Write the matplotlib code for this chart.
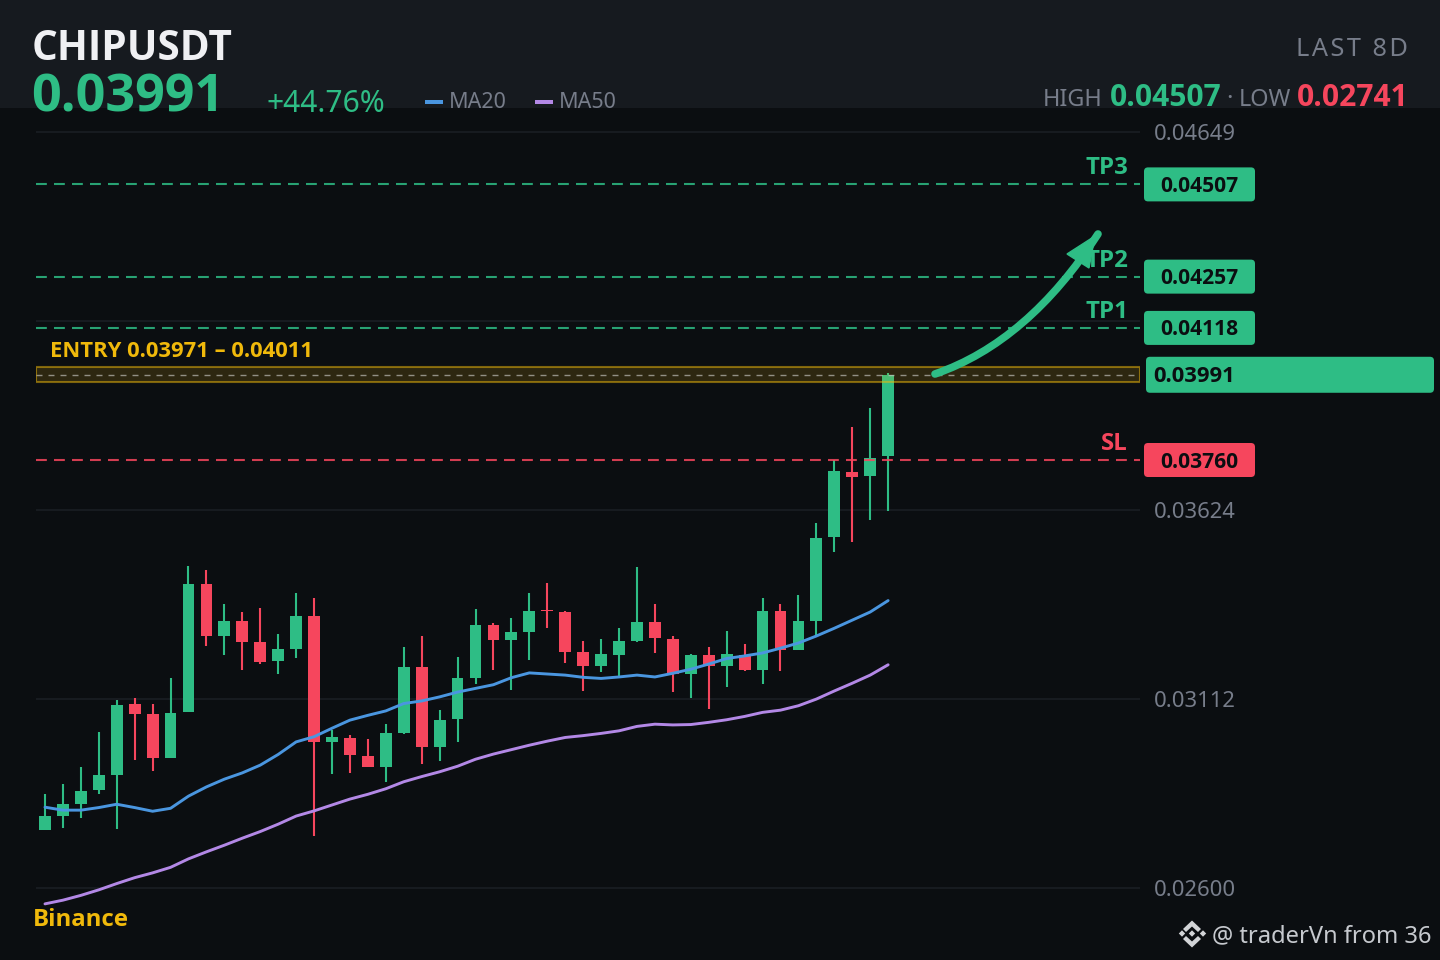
import matplotlib
matplotlib.use('Agg')
import matplotlib.pyplot as plt
import numpy as np
from matplotlib.patches import FancyBboxPatch, PathPatch, Polygon, Rectangle
from matplotlib.path import Path

opens = [0.02757, 0.02796, 0.02827, 0.02865, 0.02906, 0.03098, 0.03071, 0.02953, 0.03078, 0.03424, 0.03283, 0.03325,
         0.03266, 0.03215, 0.03248, 0.03336, 0.02996, 0.03007, 0.02958, 0.02927, 0.03021, 0.03198, 0.02981, 0.03058,
         0.03169, 0.03313, 0.03273, 0.03294, 0.03353, 0.03348, 0.03239, 0.03203, 0.03232, 0.03270, 0.03321, 0.03276,
         0.03180, 0.03231, 0.03201, 0.03232, 0.03191, 0.03351, 0.03246, 0.03325, 0.03552, 0.03727, 0.03717, 0.03770]
closes = [0.02795, 0.02827, 0.02864, 0.02905, 0.03096, 0.03072, 0.02953, 0.03075, 0.03425, 0.03283, 0.03325, 0.03266,
          0.03213, 0.03249, 0.03336, 0.02996, 0.03008, 0.02960, 0.02929, 0.03020, 0.03198, 0.02982, 0.03055, 0.03168,
          0.03313, 0.03273, 0.03294, 0.03352, 0.03350, 0.03239, 0.03202, 0.03233, 0.03269, 0.03321, 0.03278, 0.03179,
          0.03231, 0.03201, 0.03235, 0.03191, 0.03350, 0.03246, 0.03324, 0.03548, 0.03729, 0.03715, 0.03765, 0.03991]
highs = [0.02854, 0.02881, 0.02929, 0.03022, 0.03109, 0.03116, 0.03098, 0.03169, 0.03473, 0.03462, 0.03371, 0.03349,
         0.03360, 0.03289, 0.03400, 0.03386, 0.03028, 0.03016, 0.03003, 0.03045, 0.03252, 0.03283, 0.03083, 0.03225,
         0.03355, 0.03317, 0.03332, 0.03399, 0.03428, 0.03350, 0.03269, 0.03275, 0.03304, 0.03470, 0.03369, 0.03282,
         0.03234, 0.03252, 0.03296, 0.03260, 0.03386, 0.03371, 0.03394, 0.03589, 0.03759, 0.03849, 0.03900, 0.03997]
lows = [0.02757, 0.02763, 0.02790, 0.02854, 0.02759, 0.02946, 0.02918, 0.02953, 0.03078, 0.03257, 0.03232, 0.03192,
        0.03208, 0.03180, 0.03224, 0.02742, 0.02908, 0.02913, 0.02927, 0.02887, 0.03018, 0.02936, 0.02944, 0.02996,
        0.03153, 0.03192, 0.03137, 0.03217, 0.03305, 0.03210, 0.03134, 0.03186, 0.03172, 0.03267, 0.03237, 0.03131,
        0.03115, 0.03084, 0.03145, 0.03188, 0.03153, 0.03188, 0.03246, 0.03283, 0.03511, 0.03538, 0.03597, 0.03622]
ma20 = [0.02819, 0.02811, 0.02811, 0.02818, 0.02827, 0.02818, 0.02808, 0.02816, 0.02849, 0.02874, 0.02895, 0.02912,
        0.02933, 0.02962, 0.02996, 0.03010, 0.03033, 0.03055, 0.03068, 0.03080, 0.03100, 0.03107, 0.03118, 0.03131,
        0.03141, 0.03151, 0.03170, 0.03183, 0.03180, 0.03177, 0.03171, 0.03168, 0.03172, 0.03177, 0.03172, 0.03182,
        0.03193, 0.03207, 0.03222, 0.03229, 0.03237, 0.03250, 0.03264, 0.03283, 0.03304, 0.03326, 0.03348, 0.03379]
ma50 = [0.02557, 0.02567, 0.02580, 0.02595, 0.02612, 0.02628, 0.02641, 0.02656, 0.02679, 0.02698, 0.02716, 0.02735,
        0.02753, 0.02773, 0.02795, 0.02809, 0.02825, 0.02841, 0.02854, 0.02869, 0.02888, 0.02902, 0.02915, 0.02930,
        0.02949, 0.02963, 0.02975, 0.02987, 0.02998, 0.03008, 0.03013, 0.03019, 0.03026, 0.03038, 0.03044, 0.03042,
        0.03043, 0.03049, 0.03056, 0.03065, 0.03076, 0.03082, 0.03094, 0.03112, 0.03134, 0.03155, 0.03177, 0.03205]

# the 0.04137 row only shows its grid line, the pill sits over the label
tick_values = [0.02600, 0.03112, 0.03624, 0.04137, 0.04649]
tick_labels = ['0.02600', '0.03112', '0.03624', '', '0.04649']
tp_names = ['TP3', 'TP2', 'TP1']
tp_values = [0.04507, 0.04257, 0.04118]
sl_value = 0.03760
entry_low = 0.03971
entry_high = 0.04011
last_price = 0.03991

BG = '#0b0e11'
HEADER = '#161a1f'
GREEN = '#2ebd85'
RED = '#f6465d'
YELLOW = '#f0b90b'
GRAY = '#777d8a'
BLUE = '#4a96e0'
PURPLE = '#b388e6'
BOLD = 'Open Sans'


def px(size):
    # font size in pixels -> points at dpi 100
    return size * 0.72


plt.rcParams['font.family'] = ['Noto Sans', 'DejaVu Sans']

fig = plt.figure(figsize=(14.4, 9.6), dpi=100, facecolor=BG)

# header band
head = fig.add_axes([0, 1 - 108 / 960, 1, 108 / 960], zorder=0)
head.axis('off')
head.add_patch(Rectangle((0, 0), 1, 1, transform=head.transAxes, color=HEADER, lw=0))

# price axes: 132 px -> 0.04649, 888 px -> 0.02600
per_px = (0.04649 - 0.02600) / (888 - 132)
ax = fig.add_axes([36 / 1440, 0, (1140 - 36) / 1440, (960 - 108) / 960], zorder=1)
ax.set_facecolor('none')
ax.set_xlim(-0.5, 61.04)
ax.set_ylim(0.02600 - 72 * per_px, 0.04649 + 24 * per_px)
for s in ax.spines.values():
    s.set_visible(False)
ax.set_xticks([])
ax.yaxis.tick_right()
ax.set_yticks(tick_values)
ax.set_yticklabels(tick_labels, fontsize=px(22), color=GRAY)
ax.tick_params(axis='y', length=0, pad=10)
ax.grid(True, axis='y', color='#171b20', lw=1.5)
ax.set_axisbelow(True)

x = np.arange(len(opens))
colors = [GREEN if c >= o else RED for o, c in zip(opens, closes)]
ax.vlines(x, lows, highs, colors=colors, lw=1.5, zorder=3)
bottoms = [min(o, c) for o, c in zip(opens, closes)]
heights = [abs(c - o) for o, c in zip(opens, closes)]
ax.bar(x, heights, 0.66, bottom=bottoms, color=colors, lw=0, zorder=4)

ax.plot(x, ma20, color=BLUE, lw=2.1, zorder=5, solid_capstyle='round')
ax.plot(x, ma50, color=PURPLE, lw=2.1, zorder=5, solid_capstyle='round')

# levels
for v in tp_values:
    ax.axhline(v, color=GREEN, lw=1.5, alpha=0.85, dashes=(5.2, 3.44), zorder=6)
ax.axhline(sl_value, color=RED, lw=1.5, alpha=0.85, dashes=(5.2, 3.44), zorder=6)
ax.axhspan(entry_low, entry_high, facecolor=YELLOW, alpha=0.15, lw=0, zorder=6)
ax.axhspan(entry_low, entry_high, facecolor='none', edgecolor=YELLOW, alpha=0.5, lw=1.5, zorder=6)
ax.axhline(last_price, color='#c9c9c4', lw=1.0, alpha=0.65, dashes=(4.32, 4.32), zorder=6)

# overlay in image pixels for the labels
fg = fig.add_axes([0, 0, 1, 1], zorder=2)
fg.set_xlim(0, 1440)
fg.set_ylim(960, 0)
fg.axis('off')


def price_y(p):
    return 960 - ax.transData.transform((0, p))[1]


def pill(x0, x1, yc, h, color, label, size, tx=None):
    fg.add_patch(FancyBboxPatch((x0 + 4, yc - h / 2 + 4), x1 - x0 - 8, h - 8,
                                boxstyle='round,pad=4,rounding_size=4', fc=color, ec='none', zorder=8))
    if tx is None:
        fg.text((x0 + x1) / 2, yc - 0.5, label, ha='center', va='center_baseline', fontsize=px(size),
                family=BOLD, fontweight='bold', color=BG, zorder=9)
    else:
        fg.text(tx, yc - 0.5, label, ha='left', va='center_baseline', fontsize=px(size),
                family=BOLD, fontweight='bold', color=BG, zorder=9)


for name, v in zip(tp_names, tp_values):
    y = price_y(v)
    fg.text(1128, y - 10, name, ha='right', va='baseline', fontsize=px(24), family=BOLD, fontweight='bold',
            color=GREEN, zorder=7)
    pill(1144, 1255, y, 34, GREEN, '%.5f' % v, 21)
y = price_y(sl_value)
fg.text(1128, y - 10, 'SL', ha='right', va='baseline', fontsize=px(24), family=BOLD, fontweight='bold',
        color=RED, zorder=7)
pill(1144, 1255, y, 34, RED, '%.5f' % sl_value, 21)
pill(1146, 1434, price_y(last_price), 36, GREEN, '%.5f' % last_price, 22, tx=1153)

fg.text(50, 357, 'ENTRY %.5f – %.5f' % (entry_low, entry_high), ha='left', va='baseline',
        fontsize=px(22), family=BOLD, fontweight='bold', color=YELLOW)

# arrow towards the targets
curve = Path([(935, 374), (1028, 342), (1098, 234)], [Path.MOVETO, Path.CURVE3, Path.CURVE3])
fg.add_patch(PathPatch(curve, fc='none', ec=GREEN, lw=5.5, capstyle='round', zorder=10))
fg.add_patch(Polygon([(1067, 254), (1089, 268), (1095, 236)], closed=True, fc=GREEN, ec=GREEN, lw=1, zorder=10))

# header text
fg.text(32, 60, 'CHIPUSDT', ha='left', va='baseline', fontsize=px(40.5), family=BOLD, fontweight='bold', color='#eff0f3')
fg.text(31.5, 112, '%.5f' % last_price, ha='left', va='baseline', fontsize=px(52), family=BOLD, fontweight='bold', color=GREEN)
fg.text(266, 112, '+44.76%', ha='left', va='baseline', fontsize=px(30), color=GREEN)
fg.add_patch(Rectangle((425, 100), 18, 3.5, fc=BLUE, ec='none'))
fg.text(449, 108, 'MA20', ha='left', va='baseline', fontsize=px(21.5), color=GRAY)
fg.add_patch(Rectangle((535, 100), 18, 3.5, fc=PURPLE, ec='none'))
fg.text(559, 108, 'MA50', ha='left', va='baseline', fontsize=px(21.5), color=GRAY)

fg.text(1408, 56, 'L\u200aA\u200aS\u200aT\u200a \u200a8\u200aD', ha='right', va='baseline', fontsize=px(25.3), color=GRAY)
fg.text(1043, 105.5, 'HIGH', ha='left', va='baseline', fontsize=px(23.5), color=GRAY)
fg.text(1110, 105.5, '0.04507', ha='left', va='baseline', fontsize=px(30), family=BOLD, fontweight='bold', color=GREEN)
fg.text(1226, 105.5, '·', ha='left', va='baseline', fontsize=px(24), color=GRAY)
fg.text(1239, 105.5, 'LOW', ha='left', va='baseline', fontsize=px(23.5), color=GRAY)
fg.text(1297, 105.5, '0.02741', ha='left', va='baseline', fontsize=px(30), family=BOLD, fontweight='bold', color=RED)

# footer
fg.text(32.5, 926, 'Binance', ha='left', va='baseline', fontsize=px(24), family=BOLD, fontweight='bold', color=YELLOW)
fg.text(1432, 942, '@ traderVn from 36', ha='right', va='baseline', fontsize=px(23.7), color='#c6c9ce')
LOGO = '#d2d4d7'
for cx, cy in [(1182, 933.5), (1192, 933.5), (1203, 933.5)]:
    fg.add_patch(Polygon([(cx - 3.2, cy), (cx, cy - 3.2), (cx + 3.2, cy), (cx, cy + 3.2)], fc=LOGO, ec='none'))
fg.add_patch(Polygon([(1192, 920.5), (1201, 929), (1198, 932), (1192, 926.5), (1186, 932), (1183, 929)], fc=LOGO, ec='none'))
fg.add_patch(Polygon([(1192, 947.5), (1201, 939), (1198, 936), (1192, 941.5), (1186, 936), (1183, 939)], fc=LOGO, ec='none'))

fig.savefig('out.png', dpi=100, facecolor=BG)
